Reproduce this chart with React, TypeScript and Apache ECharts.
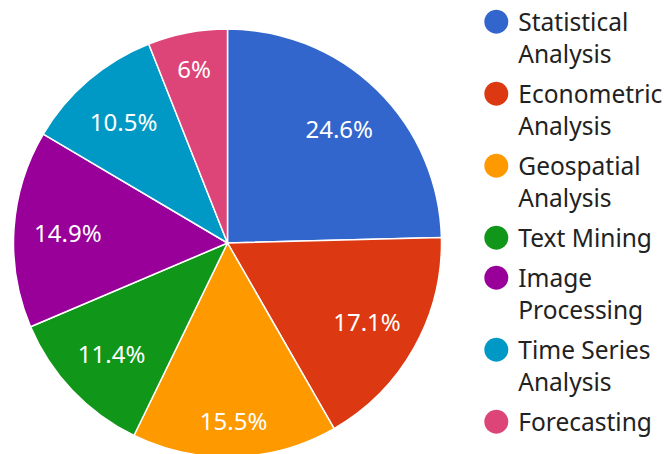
import React, { useEffect, useRef } from "react";
import * as echarts from "echarts";

const categories = [
  "Statistical Analysis",
  "Econometric Analysis",
  "Geospatial Analysis",
  "Text Mining",
  "Image Processing",
  "Time Series Analysis",
  "Forecasting",
];
const shares = [24.6, 17.1, 15.5, 11.4, 14.9, 10.5, 6];
const legendLabels = [
  "Statistical\nAnalysis",
  "Econometric\nAnalysis",
  "Geospatial\nAnalysis",
  "Text Mining",
  "Image\nProcessing",
  "Time Series\nAnalysis",
  "Forecasting",
];
const colors = ["#3366cc", "#dc3912", "#ff9900", "#109618", "#990099", "#0099c6", "#dd4477"];
const outerLabelled = ["Geospatial Analysis", "Forecasting"];

const CENTER = [227.5, 243];
const R = 214;
const FONT = '"Noto Sans", sans-serif';
const LINE = 32;
const GAP = 8;
const FIRST_ICON_Y = 21.7;
const ICON_X = 496.3;

export default function App() {
  const ref = useRef<HTMLDivElement>(null);
  useEffect(() => {
    document.body.style.margin = "0";
    const chart = echarts.init(ref.current!, null, { renderer: "svg" });

    const labelSeries = (innerR: number, show: (n: string) => boolean) => ({
      type: "pie",
      center: CENTER,
      radius: [innerR, R],
      startAngle: 90,
      silent: true,
      itemStyle: { color: "transparent", borderWidth: 0 },
      label: {
        position: "inside",
        color: "#ffffff",
        fontSize: 24,
        fontFamily: FONT,
        formatter: (p: any) => `${p.value}%`,
      },
      labelLine: { show: false },
      emphasis: { disabled: true },
      data: categories.map((name, i) => ({ name, value: shares[i], label: { show: show(name) } })),
    });

    let y = FIRST_ICON_Y;
    const legends = categories.map((name, i) => {
      const lines = legendLabels[i].split("\n").length;
      // leading blank lines keep the icon level with the first text line
      const padded = "\n".repeat(lines - 1) + legendLabels[i];
      const top = y - ((2 * lines - 1) * LINE) / 2;
      y += lines * LINE + GAP;
      return {
        top,
        left: ICON_X - 12,
        padding: 0,
        orient: "vertical",
        icon: "circle",
        itemWidth: 34,
        itemHeight: 24,
        itemStyle: { borderWidth: 0 },
        data: [{ name, itemStyle: { color: colors[i], borderWidth: 0 } }],
        formatter: () => padded,
        textStyle: {
          fontSize: 24.5,
          lineHeight: LINE,
          color: "#222222",
          fontFamily: FONT,
        },
      };
    });

    chart.setOption({
      animation: false,
      textStyle: { fontFamily: FONT },
      color: colors,
      legend: legends,
      series: [
        {
          type: "pie",
          center: CENTER,
          radius: [0, R],
          startAngle: 90,
          label: { show: false },
          labelLine: { show: false },
          itemStyle: { borderColor: "#ffffff", borderWidth: 1.5 },
          emphasis: { scale: false },
          data: categories.map((name, i) => ({ name, value: shares[i] })),
        },
        labelSeries(100, (n) => !outerLabelled.includes(n)),
        labelSeries(136, (n) => outerLabelled.includes(n)),
      ],
    });
    return () => chart.dispose();
  }, []);
  return <div ref={ref} style={{ width: 664, height: 454 }} />;
}
